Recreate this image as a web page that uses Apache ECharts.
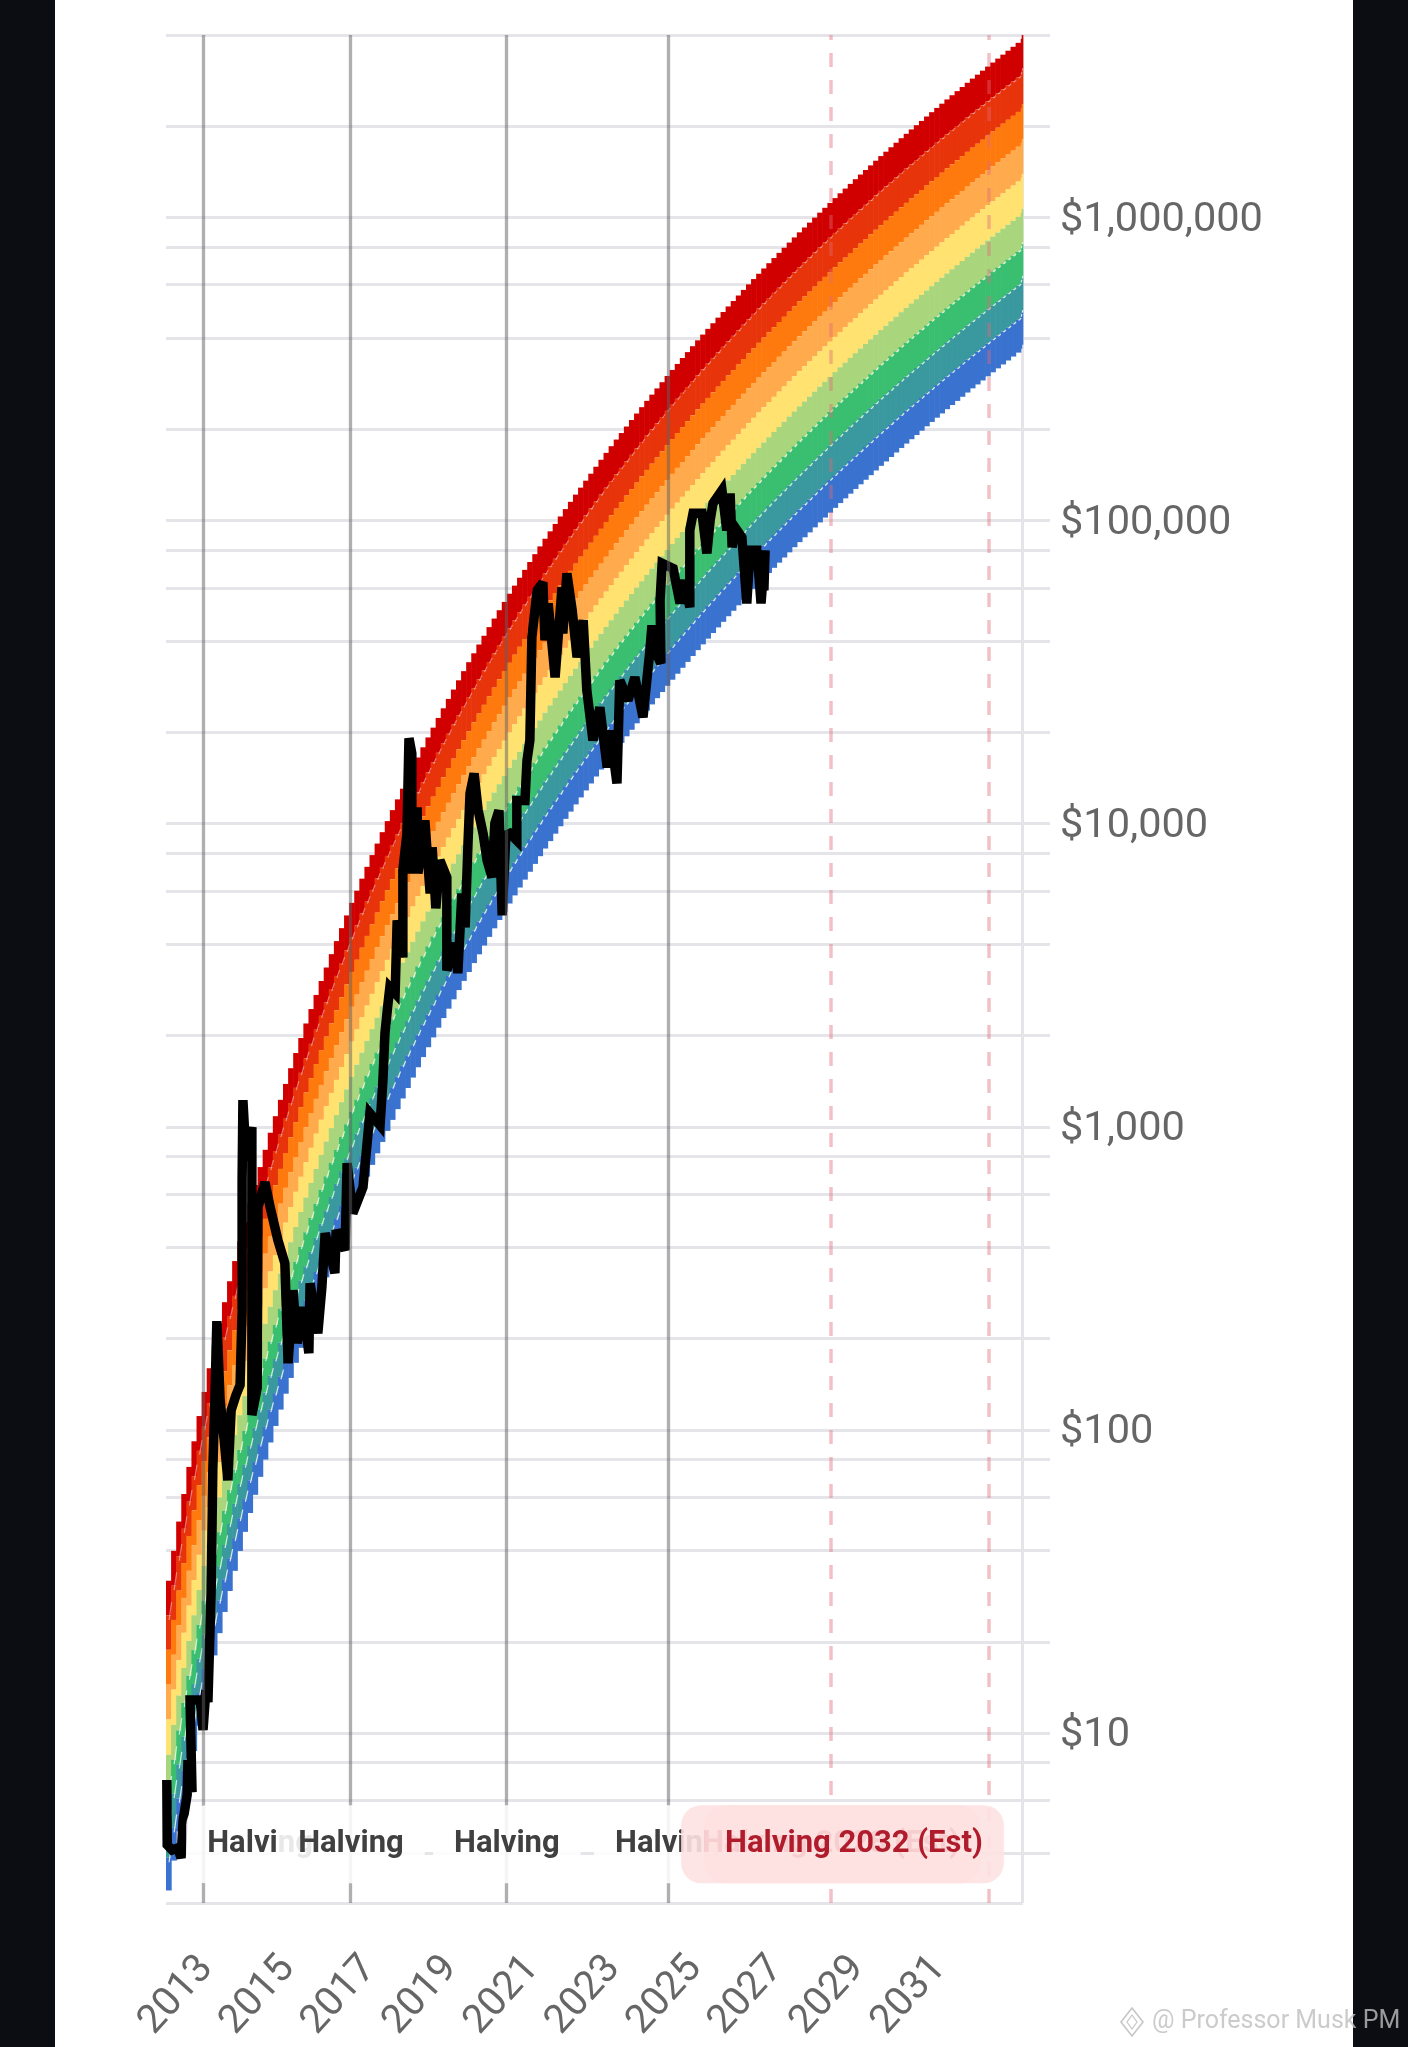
<!DOCTYPE html>
<html>
<head>
<meta charset="utf-8">
<script src="https://cdn.jsdelivr.net/npm/echarts@6/dist/echarts.min.js"></script>
<style>
html,body{margin:0;padding:0;background:#0b0d12;width:1408px;height:2047px;overflow:hidden}
#paper{position:absolute;left:55px;top:0;width:1298px;height:2047px;background:#fff}
#chart{position:absolute;left:0;top:0;width:1408px;height:2047px}
</style>
</head>
<body>
<div id="paper"></div>
<div id="chart"></div>
<script>
// Upper edge of the rainbow, log10(USD), one reading per quarter from 2012.00 to 2033.00
const bandStartYear = 2012;
const bandStepYears = 0.25;
const bandEndYear = 2033.05;
const bandTopLog = [
1.478,1.675,1.857,2.026,2.185,2.334,2.474,2.607,2.733,2.853,2.967,3.076,3.181,3.281,3.377,3.470,3.559,3.645,3.729,3.809,3.887,
3.963,4.036,4.107,4.176,4.244,4.309,4.373,4.435,4.496,4.555,4.613,4.670,4.725,4.779,4.831,4.883,4.934,4.983,5.032,5.080,5.126,
5.172,5.218,5.262,5.305,5.348,5.390,5.431,5.472,5.512,5.551,5.590,5.628,5.665,5.702,5.738,5.775,5.810,5.845,5.879,5.913,5.947,
5.979,6.012,6.044,6.076,6.107,6.138,6.168,6.199,6.228,6.258,6.287,6.315,6.344,6.372,6.400,6.427,6.455,6.481,6.508,6.534,6.560,6.586
];
// Offsets of the band boundaries below the upper edge, in log10(USD)
const bandOffsets = [0,0.115,0.228,0.343,0.458,0.574,0.689,0.801,0.914,1.022];
const bandColors = ['#d00000','#e8340a','#ff7a0e','#ffab4d','#ffe270','#a9d67c','#3abf70','#3a989f','#3a72cf'];
const bandDashAlpha = [0,0.45,0,0,0,0,0.7,0.75,0.8];
const bandTeethPerStep = 2;

// BTC price path
const priceYears = [
2012.02,2012.03,2012.15,2012.29,2012.37,2012.42,2012.52,2012.54,2012.64,2012.59,2012.84,2012.91,2012.98,2013.03,2013.11,2013.15,2013.20,2013.25,2013.33,2013.43,
2013.52,2013.60,2013.72,2013.82,2013.87,2013.87,2013.89,2013.97,2014.11,2014.11,2014.24,2014.26,2014.43,2014.56,2014.75,2014.92,2015.00,2015.12,2015.22,2015.37,
2015.51,2015.54,2015.73,2015.83,2015.91,2016.15,2016.18,2016.40,2016.45,2016.59,2016.84,2017.01,2017.26,2017.33,2017.38,2017.45,2017.50,2017.63,2017.68,2017.82,
2017.82,2017.92,2017.97,2018.04,2018.04,2018.17,2018.19,2018.36,2018.49,2018.54,2018.63,2018.73,2018.90,2018.90,2019.10,2019.17,2019.27,2019.35,2019.42,2019.47,
2019.57,2019.67,2019.79,2019.89,2020.01,2020.08,2020.18,2020.26,2020.35,2020.45,2020.62,2020.62,2020.82,2020.87,2020.94,2020.99,2021.12,2021.26,2021.31,2021.39,
2021.56,2021.73,2021.75,2021.85,2021.98,2022.10,2022.25,2022.34,2022.49,2022.66,2022.84,2022.91,2023.08,2023.15,2023.35,2023.52,2023.72,2023.89,2023.94,2024.01,
2024.16,2024.14,2024.19,2024.46,2024.63,2024.75,2024.87,2024.87,2024.95,2025.17,2025.29,2025.37,2025.44,2025.66,2025.78,2025.86,2025.91,2025.98,2026.15,2026.27,
2026.35,2026.52,2026.62,2026.72,2026.69
];
const priceLog = [
0.845,0.631,0.614,0.621,0.588,0.713,0.796,0.911,0.805,1.109,1.109,1.010,1.142,1.102,1.472,1.867,2.098,2.359,2.098,1.966,
1.834,2.065,2.115,2.148,2.395,2.824,3.088,2.890,2.999,2.049,2.138,2.735,2.817,2.735,2.626,2.550,2.220,2.461,2.286,2.405,
2.253,2.484,2.319,2.471,2.649,2.517,2.659,2.593,2.880,2.715,2.801,3.045,3.005,3.154,3.309,3.401,3.460,3.441,3.681,3.559,
3.846,3.968,4.282,4.232,3.836,4.054,3.836,4.011,3.770,3.922,3.721,3.879,3.823,3.516,3.606,3.507,3.770,3.658,3.935,4.100,
4.166,4.044,3.968,3.879,3.823,4.001,4.044,3.698,3.962,3.968,3.945,4.077,4.077,4.209,4.275,4.615,4.770,4.796,4.605,4.727,
4.483,4.780,4.628,4.826,4.704,4.549,4.671,4.440,4.275,4.384,4.186,4.308,4.133,4.473,4.407,4.483,4.351,4.572,4.654,4.572,
4.529,4.737,4.859,4.842,4.727,4.803,4.714,4.968,5.024,5.024,4.892,5.001,5.057,5.100,4.968,5.090,4.912,4.978,4.945,4.727,
4.902,4.902,4.727,4.902,4.770
];

// Halvings
const halvingYears = [2012.91,2016.52,2020.35,2024.33,2028.34,2032.22];
const halvingNames = ['Halving','Halving','Halving','Halving','Halving 2028 (Est)','Halving 2032 (Est)'];
const halvingEstimated = [false,false,false,false,true,true];
const halvingLabelShift = [57,1,1,0,0,-135];
const halvingLabelValue = 4.3;

// Axes
const yearMin = 2012, yearMax = 2033.72;
const priceMin = 2.75, priceMax = 4000000;
const gridValues = [4,6,8,10,20,40,60,80,100,200,400,600,800,1000,2000,4000,6000,8000,10000,20000,40000,60000,80000,100000,200000,400000,600000,800000,1000000,2000000,4000000];
const yearLabels = [2013,2015,2017,2019,2021,2023,2025,2027,2029,2031];

const GRID = '#e5e5e9';
const chart = echarts.init(document.getElementById('chart'), null, {renderer:'canvas'});

function bandRows(i){
  return bandTopLog.map((t, k) => {
    const y = bandStartYear + k * bandStepYears;
    const next = k + 1 < bandTopLog.length ? bandTopLog[k + 1] : t + (t - bandTopLog[k - 1]);
    return [
      y,
      Math.min(y + bandStepYears, bandEndYear),
      Math.pow(10, t - bandOffsets[i + 1]),
      Math.pow(10, t - bandOffsets[i]),
      Math.pow(10, next - bandOffsets[i]),
      Math.pow(10, next - bandOffsets[i + 1])
    ];
  });
}
const bandSeries = bandColors.map((c, i) => ({
  type:'custom', name:'band' + i, coordinateSystem:'cartesian2d', z:2, silent:true, clip:true,
  encode:{x:[0,1], y:[2,3]},
  data:bandRows(i),
  renderItem:function(params, api){
    const hi0 = api.coord([api.value(0), api.value(3)]);
    const lo0 = api.coord([api.value(0), api.value(2)]);
    const x1 = api.coord([api.value(1), api.value(3)])[0];
    const hi1y = api.coord([api.value(0), api.value(4)])[1];
    const lo1y = api.coord([api.value(0), api.value(5)])[1];
    const n = bandTeethPerStep, w = (x1 - hi0[0]) / n;
    const children = [];
    for (let j = 0; j < n; j++) {
      const f = (j + 0.25) / n;
      const sx = hi0[0] + j * w;
      const top = hi0[1] + (hi1y - hi0[1]) * f;
      const low = lo0[1] + (lo1y - lo0[1]) * f;
      children.push({type:'rect',
        shape:{x:sx, y:top, width:w + 0.6, height:low - top},
        style:{fill:c}});
    }
    if (bandDashAlpha[i] > 0) {
      for (let j = 0; j < n; j++) {
        const sx = hi0[0] + (j + 0.6) * w;
        const ya = hi0[1] + (hi1y - hi0[1]) * ((j + 0.1) / n);
        const yb = hi0[1] + (hi1y - hi0[1]) * ((j + 0.7) / n);
        children.push({type:'line', z2:5,
          shape:{x1:sx, y1:ya, x2:sx + w * 0.5, y2:yb},
          style:{stroke:'rgba(255,255,255,' + bandDashAlpha[i] + ')', lineWidth:1.2}});
      }
    }
    return {type:'group', children:children};
  }
}));

const gridSeg = gridValues.map(v => [{coord:[yearMin, v]},{coord:[yearMax, v]}]);
gridSeg.push([{coord:[yearMin, priceMin]},{coord:[bandEndYear, priceMin]}]);
gridSeg.push([{coord:[bandEndYear, priceMin]},{coord:[bandEndYear, priceMax]}]);

const option = {
  animation:false,
  backgroundColor:'transparent',
  grid:{left:166, top:35, width:884, height:1868, containLabel:false},
  xAxis:{
    type:'value', min:yearMin, max:yearMax, interval:1,
    axisLine:{show:false}, axisTick:{show:false}, splitLine:{show:false},
    axisLabel:{
      show:true, rotate:48, margin:59, interval:0, hideOverlap:false,
      showMinLabel:true, showMaxLabel:false,
      fontFamily:'Roboto', fontSize:40, color:'#666',
      formatter:v => yearLabels.includes(v) ? String(v) : ''
    }
  },
  yAxis:{
    type:'log', logBase:10, min:priceMin, max:priceMax, position:'right',
    axisLine:{show:false}, axisTick:{show:false}, splitLine:{show:false}, minorTick:{show:false},
    axisLabel:{
      show:true, margin:10, fontFamily:'Roboto', fontSize:41.5, color:'#666',
      showMinLabel:false, showMaxLabel:false,
      rich:{p:{fontFamily:'Roboto', fontSize:41.5, color:'#666', padding:[6,0,0,0]}},
      formatter:function(v){
        const e = Math.log10(v);
        return Math.abs(e - Math.round(e)) < 1e-6 ? '{p|$' + Math.round(v).toLocaleString('en-US') + '}' : '';
      }
    }
  },
  series:[
    {
      type:'line', name:'grid', z:1, silent:true, data:[], symbol:'none',
      markLine:{silent:true, symbol:'none', label:{show:false}, animation:false, z:1,
        lineStyle:{color:GRID, width:3, type:'solid'}, data:gridSeg}
    },
    ...bandSeries,
    {
      type:'line', name:'BTC price', z:3, silent:true, symbol:'none', showSymbol:false,
      data:priceYears.map((y, i) => [y, Math.pow(10, priceLog[i])]),
      lineStyle:{color:'#000', width:9.5, join:'miter', miterLimit:3, cap:'butt'}
    },
    {
      type:'line', name:'halving lines', z:4, silent:true, data:[], symbol:'none',
      markLine:{silent:true, symbol:'none', label:{show:false}, animation:false, z:4,
        data:halvingYears.map((y, i) => ({
          xAxis:y,
          lineStyle: halvingEstimated[i]
            ? {color:'rgba(224,105,118,0.42)', width:3.5, type:[14,13]}
            : {color:'rgba(95,95,100,0.5)', width:3.3, type:'solid'}
        }))}
    },
    {
      type:'scatter', name:'halving labels', z:5, silent:true, symbolSize:1, clip:false,
      itemStyle:{color:'transparent', opacity:1},
      data:halvingYears.map((y, i) => ({
        value:[y, halvingLabelValue],
        label:{
          show:true, position:'inside', formatter:halvingNames[i],
          offset:[halvingLabelShift[i],0],
          fontFamily:'Roboto', fontWeight:'bold', fontSize:31, lineHeight:36,
          color: halvingEstimated[i] ? '#b01c2c' : '#404040',
          backgroundColor: halvingEstimated[i] ? 'rgba(254,226,226,0.9)' : 'rgba(255,255,255,0.88)',
          borderRadius:20, padding:[21,21]
        }
      }))
    }
  ],
  graphic:[
    {type:'polygon', silent:true, z:100,
      shape:{points:[[1132,2008],[1143,2022],[1132,2036],[1121,2022]]},
      style:{fill:'none', stroke:'#c6c6c6', lineWidth:1.6}},
    {type:'polygon', silent:true, z:100,
      shape:{points:[[1132,2015],[1137,2022],[1132,2029],[1127,2022]]},
      style:{fill:'none', stroke:'#c6c6c6', lineWidth:1.2}},
    {type:'text', silent:true, z:100, x:1152, y:2022,
      style:{text:'@ Professor Musk PM', fontFamily:'Roboto', fontSize:25, fill:'rgba(190,190,190,0.8)', textVerticalAlign:'middle', textBaseline:'middle'}}
  ]
};
chart.setOption(option);
</script>
</body>
</html>
